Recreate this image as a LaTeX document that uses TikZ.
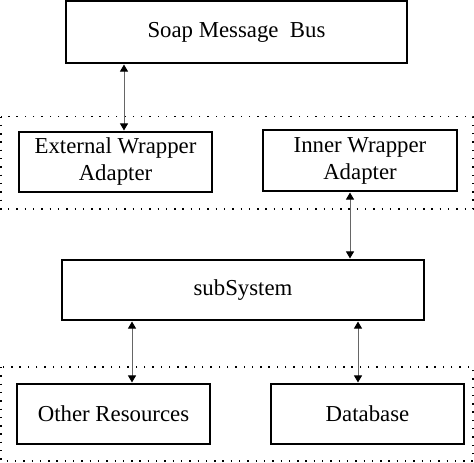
\documentclass[tikz,border=0pt]{standalone}
\usepackage{fontspec}
\setmainfont{Liberation Serif}
\usetikzlibrary{arrows.meta}
\begin{document}
\begin{tikzpicture}[x=1pt,y=-1pt,
  box/.style={draw=black,line width=1.5pt,rectangle,inner sep=0pt,align=center,font=\fontsize{22.8}{27}\selectfont},
  arr/.style={draw=black!60,line width=0.9pt,{Triangle[width=8pt,length=7pt,black]}-{Triangle[width=8pt,length=7pt,black]},shorten <=0.8pt,shorten >=0.8pt},
  grp/.style={draw=black,line width=1.6pt,dash pattern=on 1.4pt off 6.9pt}]
\useasboundingbox (0,0) rectangle (474,463);
\node[box,minimum width=341pt,minimum height=62pt] (soap) at (236.5,32) {Soap Message\ \ Bus};
\node[box,minimum width=193pt,minimum height=60pt] (ext) at (115.5,162) {External Wrapper\\Adapter};
\node[box,minimum width=194pt,minimum height=61pt] (inner) at (360,160.5) {Inner Wrapper\\Adapter};
\node[box,minimum width=362pt,minimum height=60pt] (sub) at (243,290) {subSystem};
\node[box,minimum width=193pt,minimum height=60pt] (other) at (113.5,414) {Other Resources};
\node[box,minimum width=193pt,minimum height=60pt] (db) at (367.5,414) {Database};
\coordinate (g1a) at (1,116.5); \coordinate (g1b) at (473,209);
\coordinate (g2a) at (1,367); \coordinate (g2b) at (473,461);
\draw[grp] (g1a) rectangle (g1b);
\draw[grp] (g2a) rectangle (g2b);
\coordinate (c1) at (124,0);
\coordinate (c2) at (350,0);
\coordinate (c3) at (132,0);
\coordinate (c4) at (358,0);
\draw[arr] (soap.south -| c1) -- (ext.north -| c1);
\draw[arr] (inner.south -| c2) -- (sub.north -| c2);
\draw[arr] (sub.south -| c3) -- (other.north -| c3);
\draw[arr] (sub.south -| c4) -- (db.north -| c4);
\end{tikzpicture}
\end{document}
